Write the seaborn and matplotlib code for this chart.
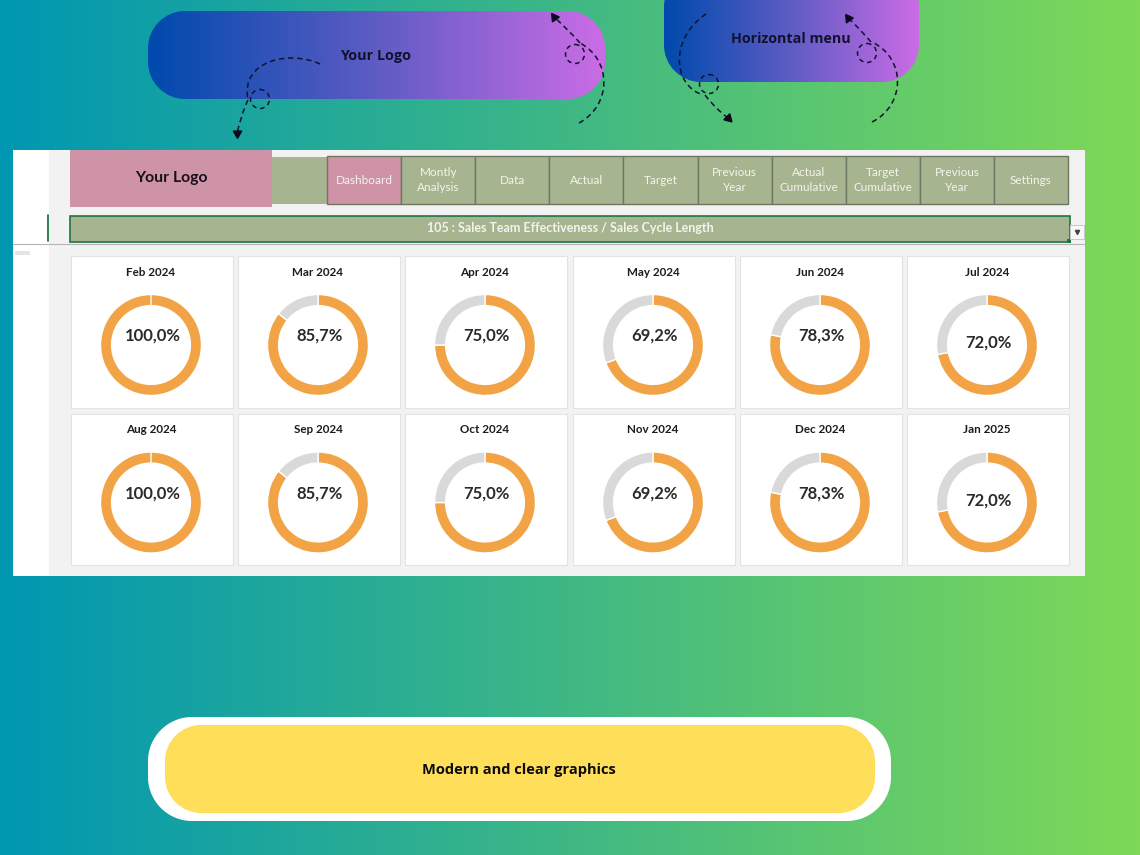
# Dashboard promo image: excel screenshot with KPI donuts on a gradient
import numpy as np
import matplotlib
matplotlib.use("Agg")
import matplotlib.pyplot as plt
from matplotlib import patches as mpatches
from matplotlib.path import Path
from matplotlib.colors import LinearSegmentedColormap
import seaborn as sns

months_top = ["Feb 2024", "Mar 2024", "Apr 2024", "May 2024", "Jun 2024", "Jul 2024"]
months_bottom = ["Aug 2024", "Sep 2024", "Oct 2024", "Nov 2024", "Dec 2024", "Jan 2025"]
values_top = [100.0, 85.7, 75.0, 69.2, 78.3, 72.0]
values_bottom = [100.0, 85.7, 75.0, 69.2, 78.3, 72.0]
menu_labels = ["Dashboard", "Montly\nAnalysis", "Data", "Actual", "Target", "Previous\nYear",
               "Actual\nCumulative", "Target\nCumulative", "Previous\nYear", "Settings"]
title_text = "105 : Sales Team Effectiveness / Sales Cycle Length"

W, H = 1140, 855
ORANGE = "#f2a346"
LIGHT = "#d9d9d9"
PINK = "#cf93a8"
SAGE = "#a6b48f"
INK = "#12122e"

sns.set_theme(style="white")
plt.rcParams["font.family"] = ["Lato", "DejaVu Sans"]

fig = plt.figure(figsize=(W / 100, H / 100), dpi=100)
ax = fig.add_axes([0, 0, 1, 1])
ax.set_xlim(0, W)
ax.set_ylim(H, 0)
ax.axis("off")

# background
bg_cmap = LinearSegmentedColormap.from_list("bg", sns.blend_palette(["#0097b2", "#7ed957"], 32))
ramp = np.linspace(0, 1, 512).reshape(1, -1)
ax.imshow(ramp, cmap=bg_cmap, extent=[0, W, H, 0], aspect="auto", zorder=0)


def pill(x0, y0, x1, y1, r, **kw):
    # round corners with cubic curves, FancyBboxPatch corners came out pointy
    k = r * 0.45
    pts = [(x0 + r, y0), (x1 - r, y0),
           (x1 - k, y0), (x1, y0 + k), (x1, y0 + r),
           (x1, y1 - r),
           (x1, y1 - k), (x1 - k, y1), (x1 - r, y1),
           (x0 + r, y1),
           (x0 + k, y1), (x0, y1 - k), (x0, y1 - r),
           (x0, y0 + r),
           (x0, y0 + k), (x0 + k, y0), (x0 + r, y0)]
    codes = [Path.MOVETO, Path.LINETO] + [Path.CURVE4] * 3 + [Path.LINETO] + [Path.CURVE4] * 3 \
        + [Path.LINETO] + [Path.CURVE4] * 3 + [Path.LINETO] + [Path.CURVE4] * 3
    return mpatches.PathPatch(Path(pts, codes), **kw)


pill_cmap = LinearSegmentedColormap.from_list("pill", sns.blend_palette(["#004aad", "#5e5cc4", "#cb6ce6"], 32))
for x0, y0, x1, y1, r in [(148, 11, 605, 99, 37), (664, -30, 919, 82, 37)]:
    im = ax.imshow(ramp, cmap=pill_cmap, extent=[x0, x1, y1, y0], aspect="auto", zorder=1)
    clip = pill(x0, y0, x1, y1, r, fc="none", ec="none", transform=ax.transData)
    ax.add_patch(clip)
    im.set_clip_path(clip)
ax.set_xlim(0, W)
ax.set_ylim(H, 0)

ax.text(376, 56, "Your Logo", ha="center", va="center", fontsize=10.4, fontweight="bold",
        family="Open Sans", color=INK, zorder=5)
ax.text(791, 39, "Horizontal menu", ha="center", va="center", fontsize=10.3, fontweight="bold",
        family="Open Sans", color=INK, zorder=5)


# dashed arrows: long arc, small loop, tail with head
def dashed(arc, loop, tail, angle):
    for pts in (arc, tail):
        codes = [Path.MOVETO] + [Path.CURVE4] * (len(pts) - 1)
        ax.add_patch(mpatches.PathPatch(Path(pts, codes), fc="none", ec=INK, lw=1.1,
                                        ls=(0, (3.5, 2.5)), zorder=4))
    ax.add_patch(mpatches.Circle(loop, 9.5, fc="none", ec=INK, lw=1.1, ls=(0, (3, 2.5)), zorder=4))
    ax.plot(*tail[-1], marker=(3, 0, angle), ms=7, color="#0a0a1e", zorder=4)


dashed([(320, 64), (290, 50), (240, 60), (248, 100)], (260, 99),
       [(248, 100), (243, 110), (240, 122), (237, 133)], 180)
dashed([(579, 123), (612, 105), (612, 60), (580, 43)], (575, 54),
       [(580, 43), (572, 34), (564, 26), (554, 17)], 35)
dashed([(706, 14), (670, 38), (672, 85), (703, 95)], (709, 84),
       [(705, 95), (712, 104), (720, 112), (728, 118)], 225)
dashed([(872, 122), (906, 105), (906, 58), (872, 42)], (867, 53),
       [(871, 42), (863, 33), (856, 25), (848, 18)], 35)

# excel sheet
ax.add_patch(mpatches.Rectangle((13, 150), 1072, 426, fc="white", ec="none", zorder=2))
ax.add_patch(mpatches.Rectangle((49, 150), 1036, 426, fc="#f2f2f2", ec="none", zorder=2))
ax.plot([13, 1085], [244, 244], color="#b5b5b5", lw=0.8, zorder=3)
ax.plot([47.5, 47.5], [215, 241], color="#217346", lw=1.3, zorder=3)
ax.add_patch(mpatches.Rectangle((15, 251), 15, 4, fc="#e4e4e4", ec="none", zorder=3))

# header
ax.add_patch(mpatches.Rectangle((272, 157), 55, 47, fc=SAGE, ec="none", zorder=3))
ax.add_patch(mpatches.Rectangle((70, 150.5), 202, 56.5, fc=PINK, ec="none", zorder=3))
ax.text(171, 178, "Your Logo", ha="center", va="center", fontsize=11.3, fontweight="bold",
        color="#17101a", zorder=5)

cell_w = (1068 - 327) / len(menu_labels)
for i, label in enumerate(menu_labels):
    x0 = 327 + i * cell_w
    ax.add_patch(mpatches.Rectangle((x0, 156), cell_w, 48, fc=PINK if i == 0 else SAGE,
                                    ec="#6f7663", lw=1, zorder=3))
    ax.text(x0 + cell_w / 2, 180, label, ha="center", va="center", fontsize=8.5, color="#f4f4ec",
            linespacing=1.35, zorder=5)

# title bar with dropdown
ax.add_patch(mpatches.Rectangle((69.5, 215.5), 1000, 26, fc=SAGE, ec="#217346", lw=1.2, zorder=3))
ax.add_patch(mpatches.Rectangle((1067, 239), 4, 4, fc="#217346", ec="none", zorder=4))
ax.text(570, 228, title_text, ha="center", va="center", fontsize=9, fontweight="bold",
        color="#f4f4ec", zorder=5)
ax.add_patch(mpatches.Rectangle((1070, 225), 14, 14, fc="#f8f8f8", ec="#c8c8c8", lw=0.7, zorder=4))
ax.plot(1077, 232, marker="v", ms=3, color="#444444", zorder=5)

# yellow banner
ax.add_patch(pill(148, 717, 891, 821, 44, fc="white", ec="none", zorder=2))
ax.add_patch(pill(165, 725, 875, 813, 36, fc="#ffde59", ec="none", zorder=3))
ax.text(519, 770, "Modern and clear graphics", ha="center", va="center", fontsize=10.5, fontweight="bold",
        family="Open Sans", color="#0b0b0b", zorder=5)

# donut cards
card_x = [71, 238, 405, 573, 740, 907]
row_y = [256, 413.5]
card_w, card_h = 162, 151.5
for row, (months, values) in enumerate([(months_top, values_top), (months_bottom, values_bottom)]):
    y0 = row_y[row]
    for x0, month, value in zip(card_x, months, values):
        ax.add_patch(mpatches.Rectangle((x0, y0), card_w, card_h, fc="white", ec="#e3e3e3", lw=0.8, zorder=3))
        ax.text(x0 + card_w / 2 - 1, y0 + 16, month, ha="center", va="center", fontsize=8.4,
                fontweight="bold", color="#1c1c1c", zorder=5)
        cx, cy, r = x0 + 80, y0 + 89, 50.5
        dax = fig.add_axes([(cx - r) / W, 1 - (cy + r) / H, 2 * r / W, 2 * r / H], zorder=6)
        dax.pie([value, 100 - value], colors=[ORANGE, LIGHT], startangle=90, counterclock=False,
                radius=1.0, wedgeprops=dict(width=0.22, edgecolor="white", linewidth=1.0))
        dax.set_xlim(-1.0, 1.0)
        dax.set_ylim(-1.0, 1.0)
        label = ("%.1f" % value).replace(".", ",") + "%"
        dax.text(0.03, 0.04 if value == 72.0 else 0.18, label, ha="center", va="center",
                 fontsize=12, fontweight="bold", color="#2b2b2b")

fig.savefig("out.png", dpi=100)
